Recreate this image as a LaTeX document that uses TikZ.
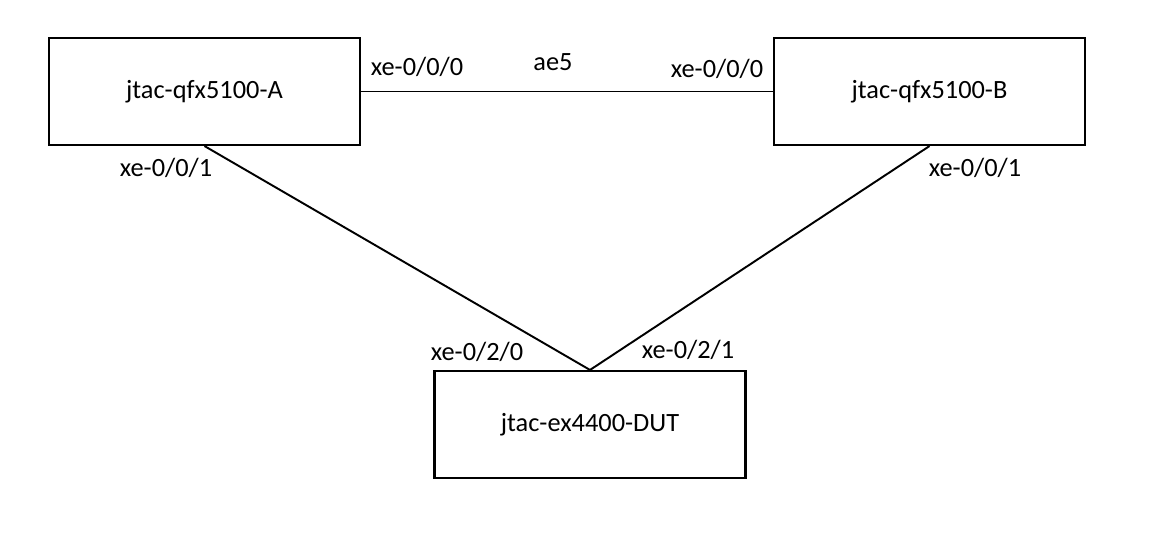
\documentclass[tikz,border=0pt]{standalone}
\usepackage{fontspec}
\setmainfont{Carlito}
\begin{document}
\begin{tikzpicture}[x=0.02cm,y=-0.02cm,
  box/.style={draw,line width=1.2pt,minimum width=6.22cm,minimum height=2.14cm,inner sep=0pt,font=\fontsize{15}{18}\selectfont},
  lbl/.style={font=\fontsize{15}{18}\selectfont,inner sep=0pt},
  link/.style={line width=1.1pt}]
\useasboundingbox (0,0) rectangle (1167,544);
\node[box] (A) at (204.5,91.5) {jtac-qfx5100-A};
\node[box] (B) at (929.5,91.5) {jtac-qfx5100-B};
\node[box] (D) at (590,424.5) {jtac-ex4400-DUT};
\draw[link] (A.east) -- (B.west);
\draw[link] (A.south) -- (D.north);
\draw[link] (B.south) -- (D.north);
\node[lbl] (l1) at (417,67) {xe-0/0/0};
\node[lbl] (l2) at (553,62) {ae5};
\node[lbl] (l3) at (717,69) {xe-0/0/0};
\node[lbl] (l4) at (166,168) {xe-0/0/1};
\node[lbl] (l5) at (975,168) {xe-0/0/1};
\node[lbl] (l6) at (477,352) {xe-0/2/0};
\node[lbl] (l7) at (688,350) {xe-0/2/1};
\end{tikzpicture}
\end{document}
